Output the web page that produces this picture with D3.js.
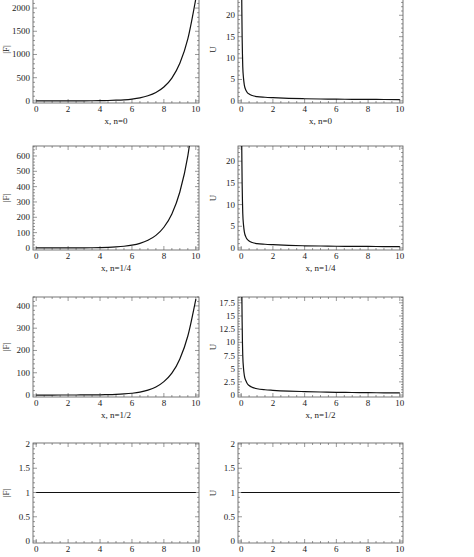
<!DOCTYPE html><html><head><meta charset="utf-8">
<script src="https://cdn.jsdelivr.net/npm/d3@7"></script>
<style>body{margin:0;background:#fff}text{font-family:"Liberation Serif","DejaVu Serif",serif;font-size:9px;fill:#222}</style>
</head><body><svg id="c" width="474" height="557"></svg><script>
const xs=[0,0.5,1,1.5,2,2.5,3,3.5,4,4.5,5,5.5,6,6.5,7,7.5,8,8.5,9,9.5,10];
const F0=[0.1,0.16,0.27,0.45,0.74,1.2,2,3.3,5.5,9,15,24,40,66,110,181,298,492,810,1335,2200];
const F1=[0.05,0.08,0.13,0.2,0.33,0.55,0.9,1.5,2.5,4,6.7,11,18,30,50,82,135,222,365,600,1000];
const F2=[0.02,0.03,0.05,0.09,0.14,0.24,0.4,0.7,1.1,1.8,3,4.9,8,13,22,36,60,98,162,265,430];
const Fc=[1,1,1,1,1,1,1,1,1,1,1,1,1,1,1,1,1,1,1,1,1];
const ux=[0.02,0.04,0.06,0.08,0.1,0.15,0.2,0.3,0.4,0.5,0.7,1,1.5,2,3,4,5,6,7,8,9,10];
const U0=[30,22,15,11,8,5.2,3.7,2.5,1.9,1.6,1.25,1,0.85,0.75,0.6,0.5,0.45,0.4,0.37,0.35,0.33,0.32];
const U1=[30,22,15,11,8,5.2,3.7,2.5,1.9,1.6,1.25,1,0.85,0.75,0.6,0.5,0.45,0.4,0.37,0.35,0.33,0.32];
const U2=[30,20,14,10,7.5,5,3.7,2.7,2.1,1.8,1.45,1.2,1,0.9,0.75,0.65,0.58,0.52,0.48,0.45,0.42,0.4];
const xTicks=[0,2,4,6,8,10];
const rows=[
 {top:-4,bot:103,F:F0,fd:[0,2260],ft:[0,500,1000,1500,2000],fm:100,U:U0,ux:ux,ud:[0,24.5],ut:[0,5,10,15,20],um:1,xl:"x, n=0"},
 {top:146,bot:250,F:F1,fd:[0,665],ft:[0,100,200,300,400,500,600],fm:20,U:U1,ux:ux,ud:[0,23.5],ut:[0,5,10,15,20],um:1,xl:"x, n=1/4"},
 {top:297,bot:397,F:F2,fd:[0,440],ft:[0,100,200,300,400],fm:20,U:U2,ux:ux,ud:[0,18.6],ut:[0,2.5,5,7.5,10,12.5,15,17.5],um:0.5,xl:"x, n=1/2"},
 {top:443,bot:543,F:Fc,fd:[0,2.02],ft:[0,0.5,1,1.5,2],fm:0.1,U:Fc,ux:xs,ud:[0,2.02],ut:[0,0.5,1,1.5,2],um:0.1,xl:""}
];
const svg=d3.select("#c");
let cid=0;
function panel(L,R,r,xd,yd,ydom,yt,ym,lab,isF){
  const g=svg.append("g");
  const x=d3.scaleLinear().domain([-0.2,10.2]).range([L,R]);
  const y=d3.scaleLinear().domain([ydom[0]-(ydom[1]-ydom[0])*0.02,ydom[1]]).range([r.bot,r.top]);
  const id="cl"+(cid++);
  g.append("clipPath").attr("id",id).append("rect").attr("x",L).attr("y",r.top).attr("width",R-L).attr("height",r.bot-r.top);
  const st="#555";
  g.append("rect").attr("x",L).attr("y",r.top).attr("width",R-L).attr("height",r.bot-r.top).attr("fill","none").attr("stroke",st).attr("stroke-width",0.8);
  const xmin=d3.range(0,10.01,0.5);
  xmin.forEach(v=>{const big=xTicks.includes(v),l=big?4:2;
    g.append("line").attr("x1",x(v)).attr("x2",x(v)).attr("y1",r.bot).attr("y2",r.bot-l).attr("stroke",st).attr("stroke-width",0.6);
    g.append("line").attr("x1",x(v)).attr("x2",x(v)).attr("y1",r.top).attr("y2",r.top+l).attr("stroke",st).attr("stroke-width",0.6);});
  const ymin=d3.range(0,ydom[1]+1e-9,ym);
  ymin.forEach(v=>{const big=yt.some(t=>Math.abs(t-v)<1e-9),l=big?4:2;
    g.append("line").attr("y1",y(v)).attr("y2",y(v)).attr("x1",L).attr("x2",L+l).attr("stroke",st).attr("stroke-width",0.6);
    g.append("line").attr("y1",y(v)).attr("y2",y(v)).attr("x1",R).attr("x2",R-l).attr("stroke",st).attr("stroke-width",0.6);});
  xTicks.forEach(v=>g.append("text").attr("x",x(v)).attr("y",r.bot+9).attr("text-anchor","middle").text(v));
  yt.forEach(v=>g.append("text").attr("x",L-3).attr("y",y(v)+3).attr("text-anchor","end").text(v));
  if(r.xl) g.append("text").attr("x",(L+R)/2).attr("y",r.bot+21).attr("text-anchor","middle").text(r.xl);
  const lx=isF?L-24:L-22;
  g.append("text").attr("transform",`translate(${lx},${(r.top+r.bot)/2}) rotate(-90)`).attr("text-anchor","middle").text(lab);
  const line=d3.line().curve(d3.curveMonotoneX).x((d,i)=>x(xd[i])).y(d=>y(d));
  g.append("path").attr("clip-path",`url(#${id})`).datum(yd).attr("d",line).attr("fill","none").attr("stroke","#111").attr("stroke-width",1.2);
}
rows.forEach(r=>{
  panel(33,199,r,xs,r.F,r.fd,r.ft,r.fm,"|F|",true);
  panel(238,403,r,r.ux,r.U,r.ud,r.ut,r.um,"U",false);
});
</script></body></html>
